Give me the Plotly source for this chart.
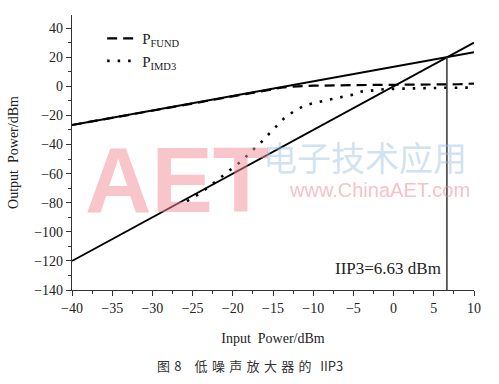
import plotly.graph_objects as go

# ---- data ----
fund_ext_x = [-40, 10]
fund_ext_y = [-26.6, 23.4]
imd_ext_x = [-40, 10]
imd_ext_y = [-120, 30]

fund_x = [-40, -30, -20, -16, -14, -13, -12, -10, -5, 0, 5, 8, 10]
fund_y = [-26.6, -16.6, -6.6, -2.6, -1.0, -0.4, 0.0, 0.4, 0.8, 1.0, 1.0, 1.4, 1.9]

imd_x = [-25.7, -24.5, -23.25, -22.2, -21.1, -19.9, -18.8, -17.8, -16.7, -15.7, -14.6,
         -13.6, -12.5, -11, -9.65, -8.1, -6.7, -5.2, -4, -2.6, -0.9, 2, 3.6, 6.4, 8.2, 10]
imd_y = [-79, -75, -70.2, -65.7, -60.6, -55.5, -50.9, -45.2, -39.9, -33.9, -27.9,
         -21.9, -17.6, -13, -11.2, -9.3, -7.7, -5.9, -3.6, -2.6, -1.9, -1.5, -1.2, -1.0, -1.0, -0.8]

iip3_in = 6.63
iip3_out = 20.0

x_ticks = [-40, -35, -30, -25, -20, -15, -10, -5, 0, 5, 10]
y_ticks = [40, 20, 0, -20, -40, -60, -80, -100, -120, -140]

serif = "Liberation Serif, Times New Roman, serif"

fig = go.Figure()

fig.add_trace(go.Scatter(x=fund_ext_x, y=fund_ext_y, mode="lines",
                         line=dict(color="black", width=1.8), showlegend=False))
fig.add_trace(go.Scatter(x=imd_ext_x, y=imd_ext_y, mode="lines",
                         line=dict(color="black", width=1.8), showlegend=False))
fig.add_trace(go.Scatter(x=fund_x, y=fund_y, mode="lines", name="P<sub>FUND</sub>",
                         line=dict(color="black", width=2.2, dash="10px,6px")))
fig.add_trace(go.Scatter(x=imd_x, y=imd_y, mode="lines", name="P<sub>IMD3</sub>",
                         line=dict(color="black", width=2.6, dash="2.5px,8px")))
fig.add_trace(go.Scatter(x=[iip3_in, iip3_in], y=[-140, iip3_out], mode="lines",
                         line=dict(color="#333", width=1.5), showlegend=False))

sp = "\u2004"
caption = "图" + sp + "8" + "\u3000" + sp.join("低噪声放大器的") + sp + sp + "IIP3"

annotations = [
    # watermark (drawn first, faint)
    dict(x=0.261, y=0.40, xref="paper", yref="paper", text="<b>AET</b>", showarrow=False,
         xanchor="center", yanchor="middle",
         font=dict(family="Liberation Sans, Arial", size=92, color="rgba(240,140,150,0.5)")),
    dict(x=0.728, y=0.485, xref="paper", yref="paper", text="电子技术应用", showarrow=False,
         xanchor="center", yanchor="middle",
         font=dict(family="Noto Sans CJK SC", size=34, color="rgba(150,190,225,0.45)")),
    dict(x=0.766, y=0.362, xref="paper", yref="paper", text="www.ChinaAET.com", showarrow=False,
         xanchor="center", yanchor="middle",
         font=dict(family="Liberation Sans, Arial", size=20, color="rgba(240,140,150,0.55)")),
    # chart texts
    dict(x=iip3_in, y=-125, xref="x", yref="y", text="IIP3=6.63 dBm", showarrow=False,
         xanchor="right", xshift=-4, font=dict(family=serif, size=17, color="#222")),
    dict(x=0.443, y=-0.273, xref="paper", yref="paper", xanchor="center", yanchor="middle",
         text=caption, showarrow=False,
         font=dict(family="Noto Sans CJK SC", size=13, color="#333")),
]

axis_common = dict(
    showline=True, linecolor="#333", linewidth=1.3, mirror=False,
    ticks="outside", ticklen=5, tickwidth=1.2, tickcolor="#333",
    showgrid=False, zeroline=False,
    tickfont=dict(family=serif, size=14, color="#222"),
)

fig.update_layout(
    width=499, height=384,
    margin=dict(l=72, r=25, t=15, b=94),
    plot_bgcolor="white", paper_bgcolor="white",
    xaxis=dict(range=[-40, 10], tickvals=x_ticks,
               minor=dict(dtick=2.5, ticks="outside", ticklen=3, tickcolor="#333"),
               title=dict(text="Input  Power/dBm", font=dict(family=serif, size=14, color="#222"),
                          standoff=18),
               **axis_common),
    yaxis=dict(range=[-140, 49], tickvals=y_ticks,
               minor=dict(dtick=10, ticks="outside", ticklen=3, tickcolor="#333"),
               title=dict(text="Output  Power/dBm", font=dict(family=serif, size=14, color="#222"),
                          standoff=12),
               **axis_common),
    legend=dict(x=0.075, y=0.974, xanchor="left", yanchor="top", bgcolor="rgba(0,0,0,0)",
                font=dict(family=serif, size=15, color="#222"), tracegroupgap=0),
    annotations=annotations,
    showlegend=True,
)

fig.write_html("out.html")
